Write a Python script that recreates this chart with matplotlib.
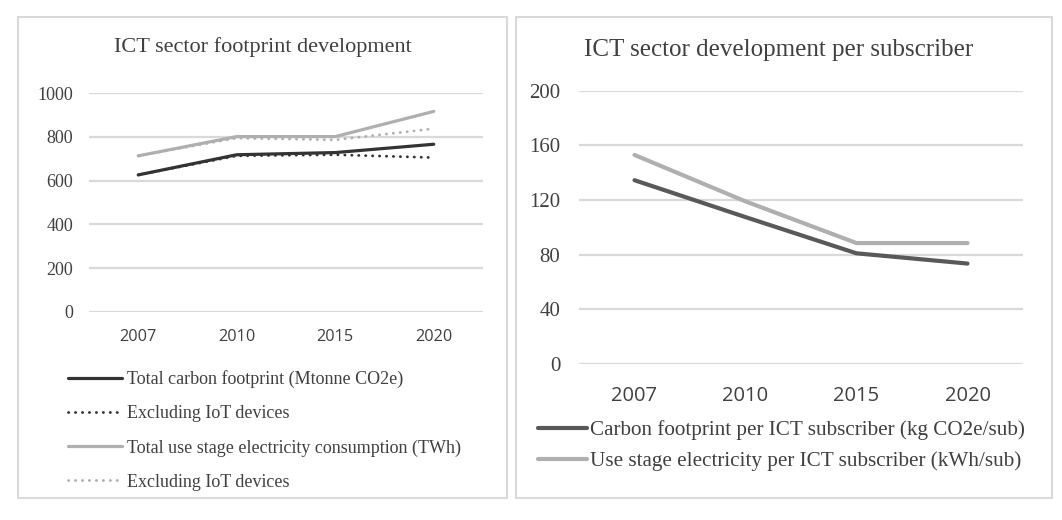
import matplotlib
matplotlib.use("Agg")
import matplotlib.pyplot as plt
from matplotlib.patches import Rectangle

# data
years = ["2007", "2010", "2015", "2020"]

carbon_total = [626, 718, 728, 766]
carbon_excl_iot = [626, 713, 718, 705]
elec_total = [713, 801, 801, 916]
elec_excl_iot = [713, 794, 786, 837]

carbon_per_sub = [134.5, 107.5, 81, 73.5]
elec_per_sub = [153, 119, 88.5, 88.5]

left_yticks = [0, 200, 400, 600, 800, 1000]
right_yticks = [0, 40, 80, 120, 160, 200]

TEXT = "#404040"
GRID = "#d9d9d9"
DARK = "#333333"
DARK2 = "#595959"
LIGHT = "#afafaf"
SERIF = "Liberation Serif"
SANS = "Open Sans"

W, H = 1062, 520


def fx(px):
    return px / W


def fy(py):
    return 1 - py / H


def style_axes(ax, yticks, ytick_size, xtick_size, xpad, ypad):
    ax.set_xlim(-0.5, 3.5)
    ax.set_ylim(yticks[0], yticks[-1])
    ax.set_yticks(yticks)
    ax.set_xticks(range(len(years)))
    ax.set_xticklabels(years, fontfamily=SANS, fontsize=xtick_size, color=TEXT)
    for lab in ax.get_yticklabels():
        lab.set_fontfamily(SERIF)
        lab.set_fontsize(ytick_size)
        lab.set_color(TEXT)
    for s in ax.spines.values():
        s.set_visible(False)
    ax.tick_params(length=0)
    ax.tick_params(axis="x", pad=xpad)
    ax.tick_params(axis="y", pad=ypad)
    ax.grid(axis="y", color=GRID, linewidth=1.6)
    ax.set_axisbelow(True)
    ax.set_facecolor("none")


fig = plt.figure(figsize=(W / 100, H / 100), dpi=100)

# panel borders
for x0, x1 in [(18, 507), (516, 1052)]:
    fig.patches.append(Rectangle((fx(x0), fy(498)), fx(x1 - x0), (498 - 17) / H,
                                 transform=fig.transFigure, fill=False,
                                 edgecolor=GRID, linewidth=1.5))

dots = (0, (0.1, 2.4))

# left chart
ax1 = fig.add_axes([fx(89), fy(312), fx(483 - 89), (312 - 93) / H])
x = range(len(years))
ax1.plot(x, carbon_total, color=DARK, lw=2.3, solid_capstyle="round",
         label="Total carbon footprint (Mtonne CO2e)")
ax1.plot(x, carbon_excl_iot, color=DARK, lw=2, linestyle=dots,
         dash_capstyle="round", label="Excluding IoT devices")
ax1.plot(x, elec_total, color=LIGHT, lw=2.3, solid_capstyle="round",
         label="Total use stage electricity consumption (TWh)")
ax1.plot(x, elec_excl_iot, color=LIGHT, lw=2, linestyle=dots,
         dash_capstyle="round", label="Excluding IoT devices")
style_axes(ax1, left_yticks, 13, 11.7, 12, 11.5)
fig.text(fx(263), fy(47), "ICT sector footprint development", ha="center",
         va="center", fontfamily=SERIF, fontsize=16, color=TEXT)
ax1.legend(loc="upper left", bbox_to_anchor=(fx(68), fy(370)),
           bbox_transform=fig.transFigure, frameon=False,
           prop={"family": SERIF, "size": 13}, labelcolor=TEXT,
           handlelength=3.0, handletextpad=0.28, labelspacing=0.95,
           borderpad=0, borderaxespad=0)

# right chart
ax2 = fig.add_axes([fx(579), fy(364), fx(1023 - 579), (364 - 90.7) / H])
ax2.plot(x, carbon_per_sub, color=DARK2, lw=3, solid_capstyle="round",
         label="Carbon footprint per ICT subscriber (kg CO2e/sub)")
ax2.plot(x, elec_per_sub, color=LIGHT, lw=3, solid_capstyle="round",
         label="Use stage electricity per ICT subscriber (kWh/sub)")
style_axes(ax2, right_yticks, 15, 14.5, 16, 13.5)
fig.text(fx(779), fy(50), "ICT sector development per subscriber", ha="center",
         va="center", fontfamily=SERIF, fontsize=18, color=TEXT)
ax2.legend(loc="upper left", bbox_to_anchor=(fx(538), fy(420)),
           bbox_transform=fig.transFigure, frameon=False,
           prop={"family": SERIF, "size": 15.2}, labelcolor=TEXT,
           handlelength=2.3, handletextpad=0.14, labelspacing=0.55,
           borderpad=0, borderaxespad=0)

fig.savefig("out.png", dpi=100)
